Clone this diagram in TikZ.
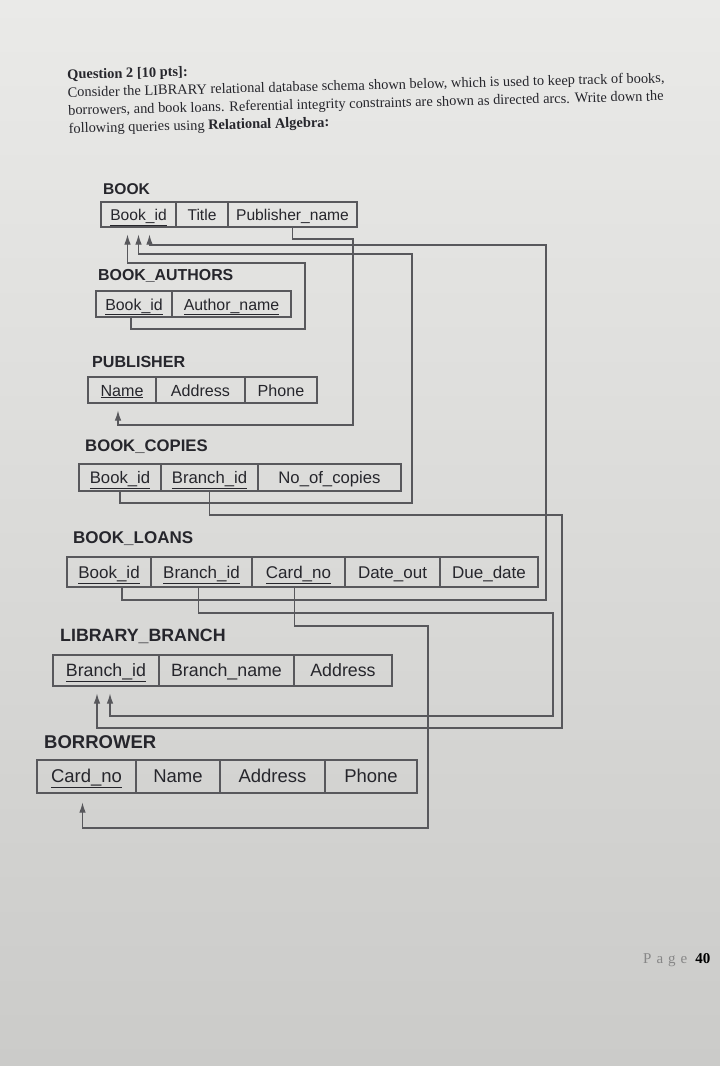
\documentclass[tikz,border=0pt]{standalone}
\usepackage{fontspec}
\setmainfont{Liberation Serif}
\setsansfont{Liberation Sans}
\usetikzlibrary{arrows.meta}

\definecolor{ink}{RGB}{38,38,44}
\definecolor{edge}{RGB}{88,88,92}
\definecolor{paperlight}{RGB}{234,234,232}
\definecolor{paperdark}{RGB}{203,203,201}
\definecolor{pagegray}{RGB}{135,135,135}

\newcommand{\key}[1]{\underline{#1}}
\newcommand{\tabfont}[1]{\sffamily\fontsize{#1}{#1}\selectfont}

\begin{document}
\begin{tikzpicture}[x=1pt, y=-1pt,
	cell/.style={draw=edge, line width=1.1pt, inner sep=0pt, text=ink, text height=14pt, text depth=2pt},
	rel/.style={anchor=west, inner sep=0pt, minimum height=0pt, text=ink},
	fk/.style={draw=edge, line width=1.1pt, -{Latex[length=10pt,width=6.5pt]}}]
			
			\useasboundingbox (0,0) rectangle (720,1066);
			\shade[top color=paperlight, bottom color=paperdark] (0,0) rectangle (720,1066);
			
			\node[anchor=north west, align=left, inner sep=0pt, text=ink, rotate=1.4,
			font=\fontsize{14.4}{18}\selectfont] (question) at (67,69) {\textbf{Question 2 [10 pts]:}\\
				Consider the LIBRARY relational database schema shown below, which is used to keep track of books,\\
				borrowers, and book loans. Referential integrity constraints are shown as directed arcs. Write down the\\
				following queries using \textbf{Relational Algebra:}};
			
			% BOOK
			\begin{scope}[every node/.append style={font=\tabfont{15.6}, minimum height=25}]
			\node[rel] (book) at (103,189) {\bfseries BOOK};
			\node[cell, minimum width=75] (book-id) at (138.5,214.5) {\key{Book\_id}};
			\node[cell, minimum width=52] (book-title) at (202,214.5) {Title};
			\node[cell, minimum width=129] (book-pub) at (292.5,214.5) {Publisher\_name};
			\end{scope}
			
			% BOOK_AUTHORS
			\begin{scope}[every node/.append style={font=\tabfont{15.9}, minimum height=26}]
			\node[rel] (authors) at (98,276) {\bfseries BOOK\_AUTHORS};
			\node[cell, minimum width=76] (ba-book) at (134,304) {\key{Book\_id}};
			\node[cell, minimum width=119] (ba-name) at (231.5,304) {\key{Author\_name}};
			\end{scope}
			
			% PUBLISHER
			\begin{scope}[every node/.append style={font=\tabfont{16.1}, minimum height=26}]
			\node[rel] (publisher) at (92,362) {\bfseries PUBLISHER};
			\node[cell, minimum width=68] (pub-name) at (122,390) {\key{Name}};
			\node[cell, minimum width=89] (pub-addr) at (200.5,390) {Address};
			\node[cell, minimum width=72] (pub-phone) at (281,390) {Phone};
			\end{scope}
			
			% BOOK_COPIES
			\begin{scope}[every node/.append style={font=\tabfont{16.7}, minimum height=27}]
			\node[rel] (copies) at (85,447) {\bfseries BOOK\_COPIES};
			\node[cell, minimum width=82] (copies-book) at (120,477.5) {\key{Book\_id}};
			\node[cell, minimum width=97] (copies-branch) at (209.5,477.5) {\key{Branch\_id}};
			\node[cell, minimum width=143] (copies-no) at (329.5,477.5) {No\_of\_copies};
			\end{scope}
			
			% BOOK_LOANS
			\begin{scope}[every node/.append style={font=\tabfont{17}, minimum height=30}]
			\node[rel] (loans) at (73,539) {\bfseries BOOK\_LOANS};
			\node[cell, minimum width=84] (loans-book) at (109,572) {\key{Book\_id}};
			\node[cell, minimum width=101] (loans-branch) at (201.5,572) {\key{Branch\_id}};
			\node[cell, minimum width=93] (loans-card) at (298.5,572) {\key{Card\_no}};
			\node[cell, minimum width=95] (loans-out) at (392.5,572) {Date\_out};
			\node[cell, minimum width=98] (loans-due) at (489,572) {Due\_date};
			\end{scope}
			
			% LIBRARY_BRANCH
			\begin{scope}[every node/.append style={font=\tabfont{17.8}, minimum height=31}]
			\node[rel] (branch) at (60,636) {\bfseries LIBRARY\_BRANCH};
			\node[cell, minimum width=106] (lb-branch) at (106,670.5) {\key{Branch\_id}};
			\node[cell, minimum width=135] (lb-name) at (226.5,670.5) {Branch\_name};
			\node[cell, minimum width=98] (lb-addr) at (343,670.5) {Address};
			\end{scope}
			
			% BORROWER
			\begin{scope}[every node/.append style={font=\tabfont{18.5}, minimum height=33}]
			\node[rel] (borrower) at (44,742) {\bfseries BORROWER};
			\node[cell, minimum width=99] (bor-card) at (86.5,776.5) {\key{Card\_no}};
			\node[cell, minimum width=84] (bor-name) at (178,776.5) {Name};
			\node[cell, minimum width=105] (bor-addr) at (272.5,776.5) {Address};
			\node[cell, minimum width=92] (bor-phone) at (371,776.5) {Phone};
			\end{scope}
			
			% referential integrity arcs
			\draw[fk] ([xshift=-3]ba-book.south) |- (305,329) -- (305,263) -| ([xshift=-11,yshift=-7]book-id.south);
			\draw[fk] (copies-book.south) |- (412,503) -- (412,254) -| ([yshift=-7]book-id.south);
			\draw[fk] ([xshift=13]loans-book.south) |- (546,600) -- (546,245) -| ([xshift=11,yshift=-7]book-id.south);
			\draw[fk] (book-pub.south) |- (353,239) -- (353,425) -| ([xshift=-4,yshift=-7]pub-name.south);
			\draw[fk] (copies-branch.south) |- (562,515) -- (562,728) -| ([xshift=-9,yshift=-7]lb-branch.south);
			\draw[fk] ([xshift=-3]loans-branch.south) |- (553,613) -- (553,716) -| ([xshift=4,yshift=-7]lb-branch.south);
			\draw[fk] ([xshift=-4]loans-card.south) |- (428,626) -- (428,828) -| ([xshift=-4,yshift=-9]bor-card.south);
			
			\node[anchor=west, inner sep=0pt, font=\fontsize{15}{15}\selectfont] (page) at (643,960)
			{{\color{pagegray}P\hspace{5pt}a\hspace{5pt}g\hspace{5pt}e}\hspace{8pt}\textbf{40}};
			
		\end{tikzpicture}
\end{document}
